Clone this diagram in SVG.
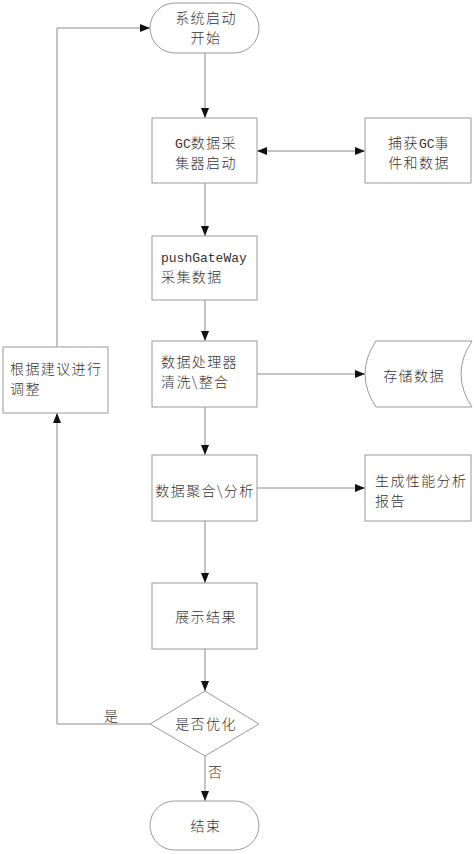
<svg xmlns="http://www.w3.org/2000/svg" width="474" height="854" viewBox="0 0 474 854">
<defs>
<marker id="ah" markerWidth="10" markerHeight="8" refX="10" refY="4" orient="auto-start-reverse" markerUnits="userSpaceOnUse">
<path d="M0,0 L10,4 L0,8 Z" fill="#111"/>
</marker>
<style>
.n{fill:#fff;stroke:#9a9a9a;stroke-width:1}
.c{fill:none;stroke:#8a8a8a;stroke-width:1}
.t{font-family:"Noto Sans CJK SC","Noto Sans CJK JP",sans-serif;font-size:14px;font-weight:300;fill:#333;letter-spacing:1.4px}
.m{font-family:"Liberation Mono","DejaVu Sans Mono",monospace;font-size:13px;font-weight:400;letter-spacing:0}
.mid{text-anchor:middle}
</style>
</defs>
<rect width="474" height="854" fill="#fff"/>
<g id="connectors">
<path class="c" d="M205,53 V118" marker-end="url(#ah)"/>
<path class="c" d="M257,151 H365" marker-start="url(#ah)" marker-end="url(#ah)"/>
<path class="c" d="M205,183 V236" marker-end="url(#ah)"/>
<path class="c" d="M205,300 V341" marker-end="url(#ah)"/>
<path class="c" d="M257,374 H365" marker-end="url(#ah)"/>
<path class="c" d="M205,407 V455" marker-end="url(#ah)"/>
<path class="c" d="M257,488 H365" marker-end="url(#ah)"/>
<path class="c" d="M205,521 V583" marker-end="url(#ah)"/>
<path class="c" d="M205,649 V691" marker-end="url(#ah)"/>
<path class="c" d="M205,756 V801" marker-end="url(#ah)"/>
<path class="c" d="M150,724 H57 V413" marker-end="url(#ah)"/>
<path class="c" d="M57,347 V28 H150" marker-end="url(#ah)"/>
<text class="t" x="104" y="721">是</text>
<text class="t" x="208" y="777">否</text>
</g>
<g id="start">
<rect class="n" x="150" y="3" width="109" height="50" rx="25" ry="25"/>
<text class="t mid" x="206" y="23">系统启动</text>
<text class="t mid" x="206" y="43">开始</text>
</g>
<g id="gc">
<rect class="n" x="152" y="118" width="105" height="65"/>
<text class="t mid" x="206" y="148"><tspan class="m">GC</tspan>数据采</text>
<text class="t mid" x="206" y="168">集器启动</text>
</g>
<g id="capture">
<rect class="n" x="365" y="118" width="106" height="65"/>
<text class="t mid" x="419" y="148">捕获<tspan class="m">GC</tspan>事</text>
<text class="t mid" x="419" y="168">件和数据</text>
</g>
<g id="push">
<rect class="n" x="152" y="236" width="105" height="64"/>
<text class="t" x="161" y="262"><tspan class="m" font-size="13.5">pushGateWay</tspan></text>
<text class="t" x="161" y="282">采集数据</text>
</g>
<g id="process">
<rect class="n" x="152" y="341" width="105" height="66"/>
<text class="t" x="161" y="367">数据处理器</text>
<text class="t" x="161" y="387">清洗\整合</text>
</g>
<g id="store">
<path class="n" d="M376,341 H472 Q450,374 472,407 H376 Q354,374 376,341 Z"/>
<text class="t mid" x="414" y="381">存储数据</text>
</g>
<g id="adjust">
<rect class="n" x="3" y="347" width="105" height="66"/>
<text class="t" x="10" y="374">根据建议进行</text>
<text class="t" x="10" y="394">调整</text>
</g>
<g id="aggregate">
<rect class="n" x="152" y="455" width="105" height="66"/>
<text class="t mid" x="205" y="496">数据聚合\分析</text>
</g>
<g id="report">
<rect class="n" x="365" y="455" width="106" height="66"/>
<text class="t" x="375" y="486">生成性能分析</text>
<text class="t" x="375" y="506">报告</text>
</g>
<g id="show">
<rect class="n" x="152" y="583" width="105" height="66"/>
<text class="t mid" x="206" y="622">展示结果</text>
</g>
<g id="decision">
<path class="n" d="M205,691 L259,724 L205,756 L150,724 Z"/>
<text class="t mid" x="206" y="729">是否优化</text>
</g>
<g id="end">
<rect class="n" x="150" y="801" width="109" height="49" rx="24.5" ry="24.5"/>
<text class="t mid" x="206" y="831">结束</text>
</g>
</svg>
